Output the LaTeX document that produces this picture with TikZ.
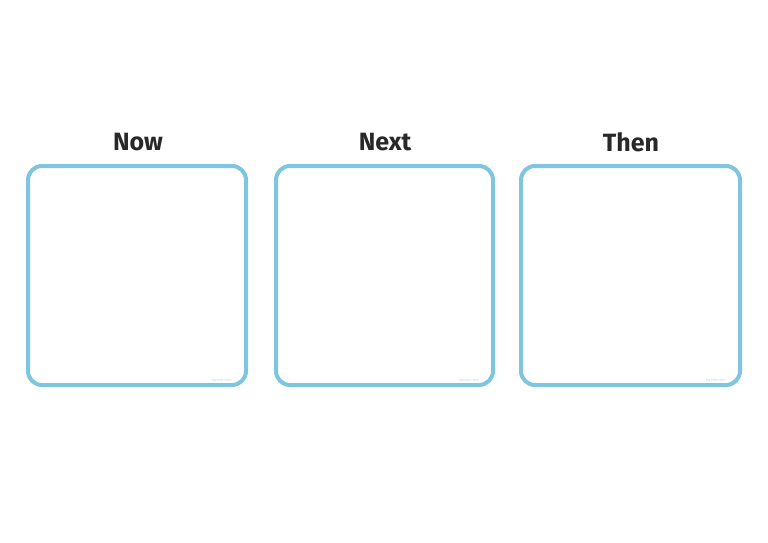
\documentclass[tikz,border=0pt]{standalone}
\usepackage{fontspec}
\setmainfont{Fira Sans}
\begin{document}
\begin{tikzpicture}[x=1pt,y=-1pt,
  panel/.style={draw={rgb,255:red,128;green,197;blue,223},line width=4pt,rounded corners=14pt},
  lbl/.style={font=\fontsize{25}{28}\selectfont\bfseries,text={rgb,255:red,40;green,40;blue,40}},
  wmark/.style={font=\fontsize{4}{5}\selectfont,text={rgb,255:red,200;green,215;blue,225}}]
\useasboundingbox[fill=white] (0,0) rectangle (768,543);
\draw[panel] (28,166) rectangle (246,385);
\draw[panel] (276,166) rectangle (493,385);
\draw[panel] (521,166) rectangle (740,385);
\node[lbl] (now) at (138,142) {Now};
\node[lbl] (next) at (385,142) {Next};
\node[lbl] (then) at (631,142) {Then};
\node[wmark] (m1) at (222,380) {twinkl.com};
\node[wmark] (m2) at (469,380) {twinkl.com};
\node[wmark] (m3) at (716,380) {twinkl.com};
\end{tikzpicture}
\end{document}
